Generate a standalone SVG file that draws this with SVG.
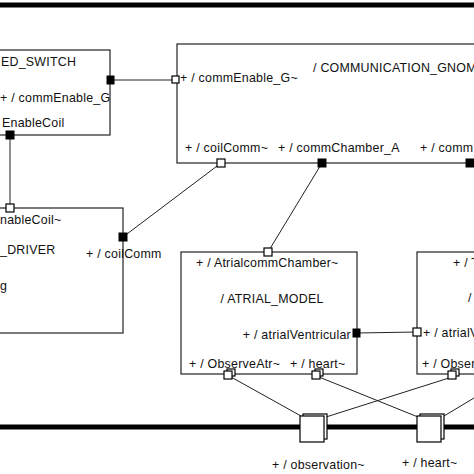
<svg xmlns="http://www.w3.org/2000/svg" width="474" height="474" viewBox="0 0 474 474">
<style>
.box{fill:#fff;stroke:#222;stroke-width:1.2}
.bar{stroke:#000;stroke-width:5}
.wire{stroke:#222;stroke-width:1;fill:none}
.pb{fill:#000;stroke:#000;stroke-width:1}
.pw{fill:#fff;stroke:#000;stroke-width:1.2}
text{font-family:"Liberation Sans",Arial,sans-serif;font-size:12.4px;letter-spacing:0.25px;fill:#111}
</style>
<rect width="474" height="474" fill="#fff"/>
<line class="bar" x1="0" y1="5" x2="474" y2="5"/>
<line class="bar" x1="0" y1="427" x2="474" y2="427"/>

<g id="switch">
<rect class="box" x="-10" y="50" width="120" height="85"/>
<text x="1" y="66">ED_SWITCH</text>
<text x="0" y="102">+ / commEnable_G</text>
<text x="2" y="127">EnableCoil</text>
</g>

<g id="gnome">
<rect class="box" x="177" y="44" width="310" height="119"/>
<text x="180" y="82">+ / commEnable_G~</text>
<text x="313" y="72">/ COMMUNICATION_GNOME</text>
<text x="185" y="152">+ / coilComm~</text>
<text x="278" y="152">+ / commChamber_A</text>
<text x="420" y="152">+ / comm</text>
</g>

<g id="driver">
<rect class="box" x="-10" y="208" width="133" height="125"/>
<text x="0" y="224">nableCoil~</text>
<text x="0" y="254">_DRIVER</text>
<text x="0" y="290">g</text>
<text x="86" y="258">+ / coilComm</text>
</g>

<g id="atrial">
<rect class="box" x="181" y="252" width="176" height="122"/>
<text x="196" y="267">+ / AtrialcommChamber~</text>
<text x="272" y="303" text-anchor="middle">/ ATRIAL_MODEL</text>
<text x="351" y="339" text-anchor="end">+ / atrialVentricular</text>
<text x="189" y="368">+ / ObserveAtr~</text>
<text x="290" y="368">+ / heart~</text>
</g>

<g id="ventricular">
<rect class="box" x="417" y="252" width="80" height="122"/>
<text x="453" y="267">+ / T</text>
<text x="468" y="302">/</text>
<text x="423" y="337">+ / atrialV</text>
<text x="422" y="368">+ / Obser</text>
</g>

<g id="connectors">
<line class="wire" x1="110" y1="80" x2="175" y2="80"/>
<line class="wire" x1="10" y1="135" x2="10" y2="208"/>
<line class="wire" x1="123" y1="237" x2="221" y2="163"/>
<line class="wire" x1="268" y1="252" x2="322" y2="163"/>
<line class="wire" x1="357" y1="333" x2="417" y2="332"/>
<line class="wire" x1="231" y1="377" x2="301" y2="416"/>
<line class="wire" x1="319" y1="377" x2="418" y2="417"/>
<line class="wire" x1="452" y1="377" x2="326" y2="417"/>
<line class="wire" x1="444" y1="416" x2="474" y2="398"/>
</g>

<g id="ports">
<rect class="pb" x="107" y="76" width="7" height="8"/>
<rect class="pb" x="6" y="131" width="8" height="8"/>
<rect class="pw" x="172" y="76" width="7" height="7"/>
<rect class="pw" x="6" y="204" width="8" height="8"/>
<rect class="pb" x="119" y="233" width="8" height="8"/>
<rect class="pw" x="217" y="159" width="8" height="8"/>
<rect class="pb" x="318" y="159" width="8" height="8"/>
<rect class="pb" x="466" y="159" width="8" height="8"/>
<rect class="pw" x="264" y="248" width="8" height="8"/>
<rect class="pb" x="353" y="329" width="7" height="8"/>
<rect class="pw" x="413" y="328" width="8" height="8"/>
<rect class="pw" x="227" y="369" width="8" height="7"/>
<rect class="pw" x="224" y="371" width="8" height="8"/>
<rect class="pw" x="315" y="369" width="8" height="7"/>
<rect class="pw" x="312" y="371" width="8" height="8"/>
<rect class="pw" x="451" y="369" width="8" height="7"/>
<rect class="pw" x="448" y="371" width="8" height="8"/>
</g>

<g id="bus-observation">
<rect class="pw" x="303" y="414" width="24" height="25"/>
<rect class="pw" x="300" y="416" width="24" height="26"/>
<text x="272" y="469">+ / observation~</text>
</g>

<g id="bus-heart">
<rect class="pw" x="420" y="414" width="24" height="25"/>
<rect class="pw" x="417" y="416" width="24" height="26"/>
<text x="402" y="467">+ / heart~</text>
</g>
</svg>
